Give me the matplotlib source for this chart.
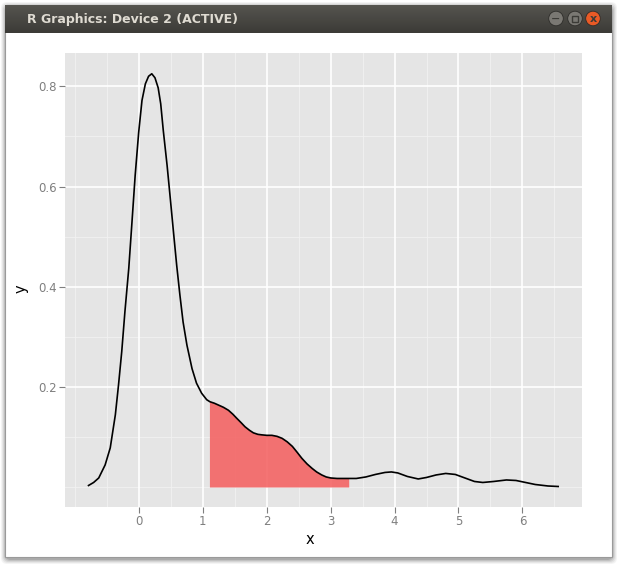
import matplotlib
matplotlib.use("Agg")
import matplotlib.pyplot as plt
from matplotlib.patches import Rectangle, FancyBboxPatch, Circle
import numpy as np

# density curve
x_vals = [-0.79, -0.71, -0.63, -0.53, -0.45, -0.37, -0.32, -0.27, -0.22, -0.16,
          -0.11, -0.06, -0.005, 0.047, 0.10, 0.15, 0.20, 0.25, 0.30, 0.34,
          0.38, 0.44, 0.49, 0.54, 0.59, 0.64, 0.69, 0.75, 0.83, 0.90, 0.98,
          1.06, 1.11, 1.18, 1.25, 1.32, 1.40, 1.47, 1.53, 1.60, 1.66, 1.73, 1.79,
          1.86, 1.92, 2.00, 2.08, 2.16, 2.24, 2.32, 2.40, 2.47, 2.55, 2.63, 2.71,
          2.78, 2.86, 2.93, 3.00, 3.10, 3.20, 3.29, 3.40, 3.55, 3.70, 3.85, 3.95,
          4.05, 4.20, 4.37, 4.50, 4.65, 4.80, 4.95, 5.10, 5.25, 5.38, 5.55, 5.75,
          5.90, 6.05, 6.20, 6.40, 6.56]
y_vals = [0.004, 0.010, 0.019, 0.045, 0.079, 0.145, 0.205, 0.271, 0.351, 0.437,
          0.529, 0.622, 0.708, 0.772, 0.805, 0.820, 0.825, 0.817, 0.797, 0.765,
          0.712, 0.642, 0.576, 0.509, 0.443, 0.384, 0.330, 0.284, 0.237, 0.208, 0.188,
          0.175, 0.171, 0.168, 0.164, 0.160, 0.154, 0.146, 0.138, 0.129, 0.121, 0.114, 0.109,
          0.106, 0.105, 0.104, 0.104, 0.102, 0.098, 0.091, 0.082, 0.071, 0.058, 0.047, 0.038,
          0.031, 0.025, 0.021, 0.019, 0.018, 0.018, 0.018, 0.018, 0.021, 0.026, 0.030, 0.031,
          0.029, 0.022, 0.017, 0.020, 0.025, 0.028, 0.026, 0.019, 0.012, 0.010, 0.012, 0.015,
          0.014, 0.010, 0.006, 0.003, 0.002]
shade_from = 1.11
shade_to = 3.29

x_major = [0, 1, 2, 3, 4, 5, 6]
x_minor = [-1.0, -0.5, 0.5, 1.5, 2.5, 3.5, 4.5, 5.5, 6.5]
y_major = [0.2, 0.4, 0.6, 0.8]
y_major_labels = ["0.2", "0.4", "0.6", "0.8"]
y_minor = [0.0, 0.1, 0.3, 0.5, 0.7]

W, H = 621, 568
fig = plt.figure(figsize=(W / 100, H / 100), dpi=100)
fig.patch.set_facecolor("white")

# window chrome (background axes in pixel coordinates)
bg = fig.add_axes([0, 0, 1, 1])
bg.set_xlim(0, W)
bg.set_ylim(H, 0)
bg.axis("off")
for i, a in enumerate([0.05, 0.07, 0.09, 0.12, 0.16]):
    d = 5 - i
    bg.add_patch(FancyBboxPatch((5 - d + 1, 5 - d + 2), 607 + 2 * d - 1, 552 + 2 * d,
                                boxstyle="round,pad=0,rounding_size=6",
                                facecolor=(0.2, 0.2, 0.2, a), edgecolor="none"))
bg.add_patch(Rectangle((5, 30), 607, 527, facecolor="white", edgecolor="#9a9a9a", lw=0.8))
grad = np.linspace(0, 1, 28).reshape(-1, 1)
bg.imshow(grad, extent=(5, 612, 33, 5), cmap=matplotlib.colors.LinearSegmentedColormap.from_list(
    "tb", ["#55544f", "#3c3b37"]), aspect="auto", zorder=2)
bg.text(27, 19.5, "R Graphics: Device 2 (ACTIVE)", color="#dfdbd2", fontsize=9.0,
        fontweight="bold", family="DejaVu Sans", va="center", ha="left", zorder=3)
for cx, fc in [(556, "#7a7873"), (575, "#7a7873"), (593, "#e95a26")]:
    bg.add_patch(Circle((cx, 18.5), 7.3, facecolor=fc, edgecolor="#2e2d2a", lw=0.6, zorder=3))
bg.text(556, 18.8, "−", color="#3c3b37", fontsize=8, ha="center", va="center", zorder=4, fontweight="bold")
bg.add_patch(Rectangle((572, 15.5), 6, 6, facecolor="none", edgecolor="#3c3b37", lw=1.0, zorder=4))
bg.text(593, 18.8, "x", color="#3c3b37", fontsize=8, ha="center", va="center", zorder=4, fontweight="bold")

# main plot panel
ax = fig.add_axes([65 / W, 61 / H, 517 / W, 454 / H])
ax.set_facecolor("#e5e5e5")
ax.set_xlim(-1.158, 6.933)
ax.set_ylim(-0.0389, 0.8664)
for v in x_minor:
    ax.axvline(v, color="#f2f2f2", lw=0.6, zorder=0)
for v in y_minor:
    ax.axhline(v, color="#f2f2f2", lw=0.6, zorder=0)
for v in x_major:
    ax.axvline(v, color="white", lw=1.2, zorder=0)
for v in y_major:
    ax.axhline(v, color="white", lw=1.2, zorder=0)

xs = np.array(x_vals)
ys = np.array(y_vals)
m = (xs >= shade_from) & (xs <= shade_to)
ax.fill_between(xs[m], 0, ys[m], facecolor="#f46565", alpha=0.9, lw=0, zorder=1)
ax.plot(xs, ys, color="black", lw=1.2, zorder=2, solid_joinstyle="round")

for s in ax.spines.values():
    s.set_visible(False)
ax.set_xticks(x_major)
ax.set_xticklabels([str(v) for v in x_major])
ax.set_yticks(y_major)
ax.set_yticklabels(y_major_labels)
ax.tick_params(axis="both", colors="#7f7f7f", labelcolor="#7f7f7f", labelsize=8.5,
               length=4, width=0.8, pad=2)
ax.set_xlabel("x", fontsize=10.5, color="black")
ax.xaxis.set_label_coords((310 - 65) / 517, -0.055)
ax.set_ylabel("y", fontsize=10.5, color="black", rotation=90)
ax.yaxis.set_label_coords(-0.07, 0.48)

fig.savefig("out.png", dpi=100, facecolor="white")
